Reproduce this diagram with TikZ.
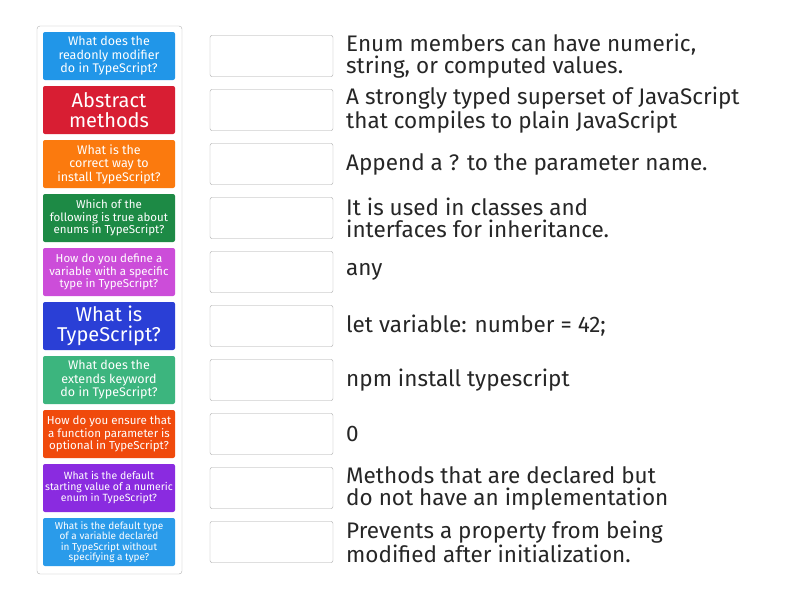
\documentclass[tikz,border=0pt]{standalone}
\usepackage{fontspec}
\setmainfont{Fira Sans}
\begin{document}
\begin{tikzpicture}[x=1pt,y=-1pt,
 tile/.style={rounded corners=2pt,minimum width=132pt,minimum height=48pt,inner sep=1pt,text=white,align=center,font=\fontsize{12.5}{13.5}\selectfont},
 big/.style={font=\fontsize{20}{20}\selectfont},
 slot/.style={draw=gray!70,rounded corners=2pt,minimum width=123pt,minimum height=41pt,fill=white},
 ans/.style={anchor=west,align=left,font=\fontsize{22.5}{22}\selectfont,text=black!85,inner sep=0pt}]
\useasboundingbox (0,0) rectangle (800,600);
\draw[gray!60,rounded corners=3pt,fill=white] (37,26) rectangle (182,574);
\definecolor{c1}{HTML}{2196E8}\definecolor{c2}{HTML}{D81E33}\definecolor{c3}{HTML}{FB7A0E}
\definecolor{c4}{HTML}{1D8A45}\definecolor{c5}{HTML}{CC4DD9}\definecolor{c6}{HTML}{2A3FD6}
\definecolor{c7}{HTML}{3CB57E}\definecolor{c8}{HTML}{F04A0C}\definecolor{c9}{HTML}{8A2BE0}
\definecolor{c10}{HTML}{2A9BEA}
\node[tile,fill=c1] (t1) at (109,56) {What does the\\readonly modifier\\do in TypeScript?};
\node[tile,fill=c2,big] (t2) at (109,110) {Abstract\\methods};
\node[tile,fill=c3] (t3) at (109,164) {What is the\\correct way to\\install TypeScript?};
\node[tile,fill=c4,font=\fontsize{11.5}{12.5}\selectfont] (t4) at (109,218) {Which of the\\following is true about\\enums in TypeScript?};
\node[tile,fill=c5,font=\fontsize{11.5}{12.5}\selectfont] (t5) at (109,272) {How do you define a\\variable with a specific\\type in TypeScript?};
\node[tile,fill=c6,big] (t6) at (109,326) {What is\\TypeScript?};
\node[tile,fill=c7] (t7) at (109,380) {What does the\\extends keyword\\do in TypeScript?};
\node[tile,fill=c8,font=\fontsize{11.5}{12.5}\selectfont] (t8) at (109,434) {How do you ensure that\\a function parameter is\\optional in TypeScript?};
\node[tile,fill=c9,font=\fontsize{10.5}{11}\selectfont] (t9) at (109,488) {What is the default\\starting value of a numeric\\enum in TypeScript?};
\node[tile,fill=c10,font=\fontsize{10}{10.5}\selectfont] (t10) at (109,542) {What is the default type\\of a variable declared\\in TypeScript without\\specifying a type?};
\foreach \i/\t in {1/{Enum members can have numeric,\\string, or computed values.},
 2/{A strongly typed superset of JavaScript\\that compiles to plain JavaScript},
 3/{Append a ? to the parameter name.},
 4/{It is used in classes and\\interfaces for inheritance.},
 5/{any},
 6/{let variable: number = 42;},
 7/{npm install typescript},
 8/{0},
 9/{Methods that are declared but\\do not have an implementation},
 10/{Prevents a property from being\\modified after initialization.}}{
 \node[slot] (s\i) at (271.5,2+54*\i) {};
 \node[ans] (a\i) at (346,2+54*\i) {\t};
}
\end{tikzpicture}
\end{document}
